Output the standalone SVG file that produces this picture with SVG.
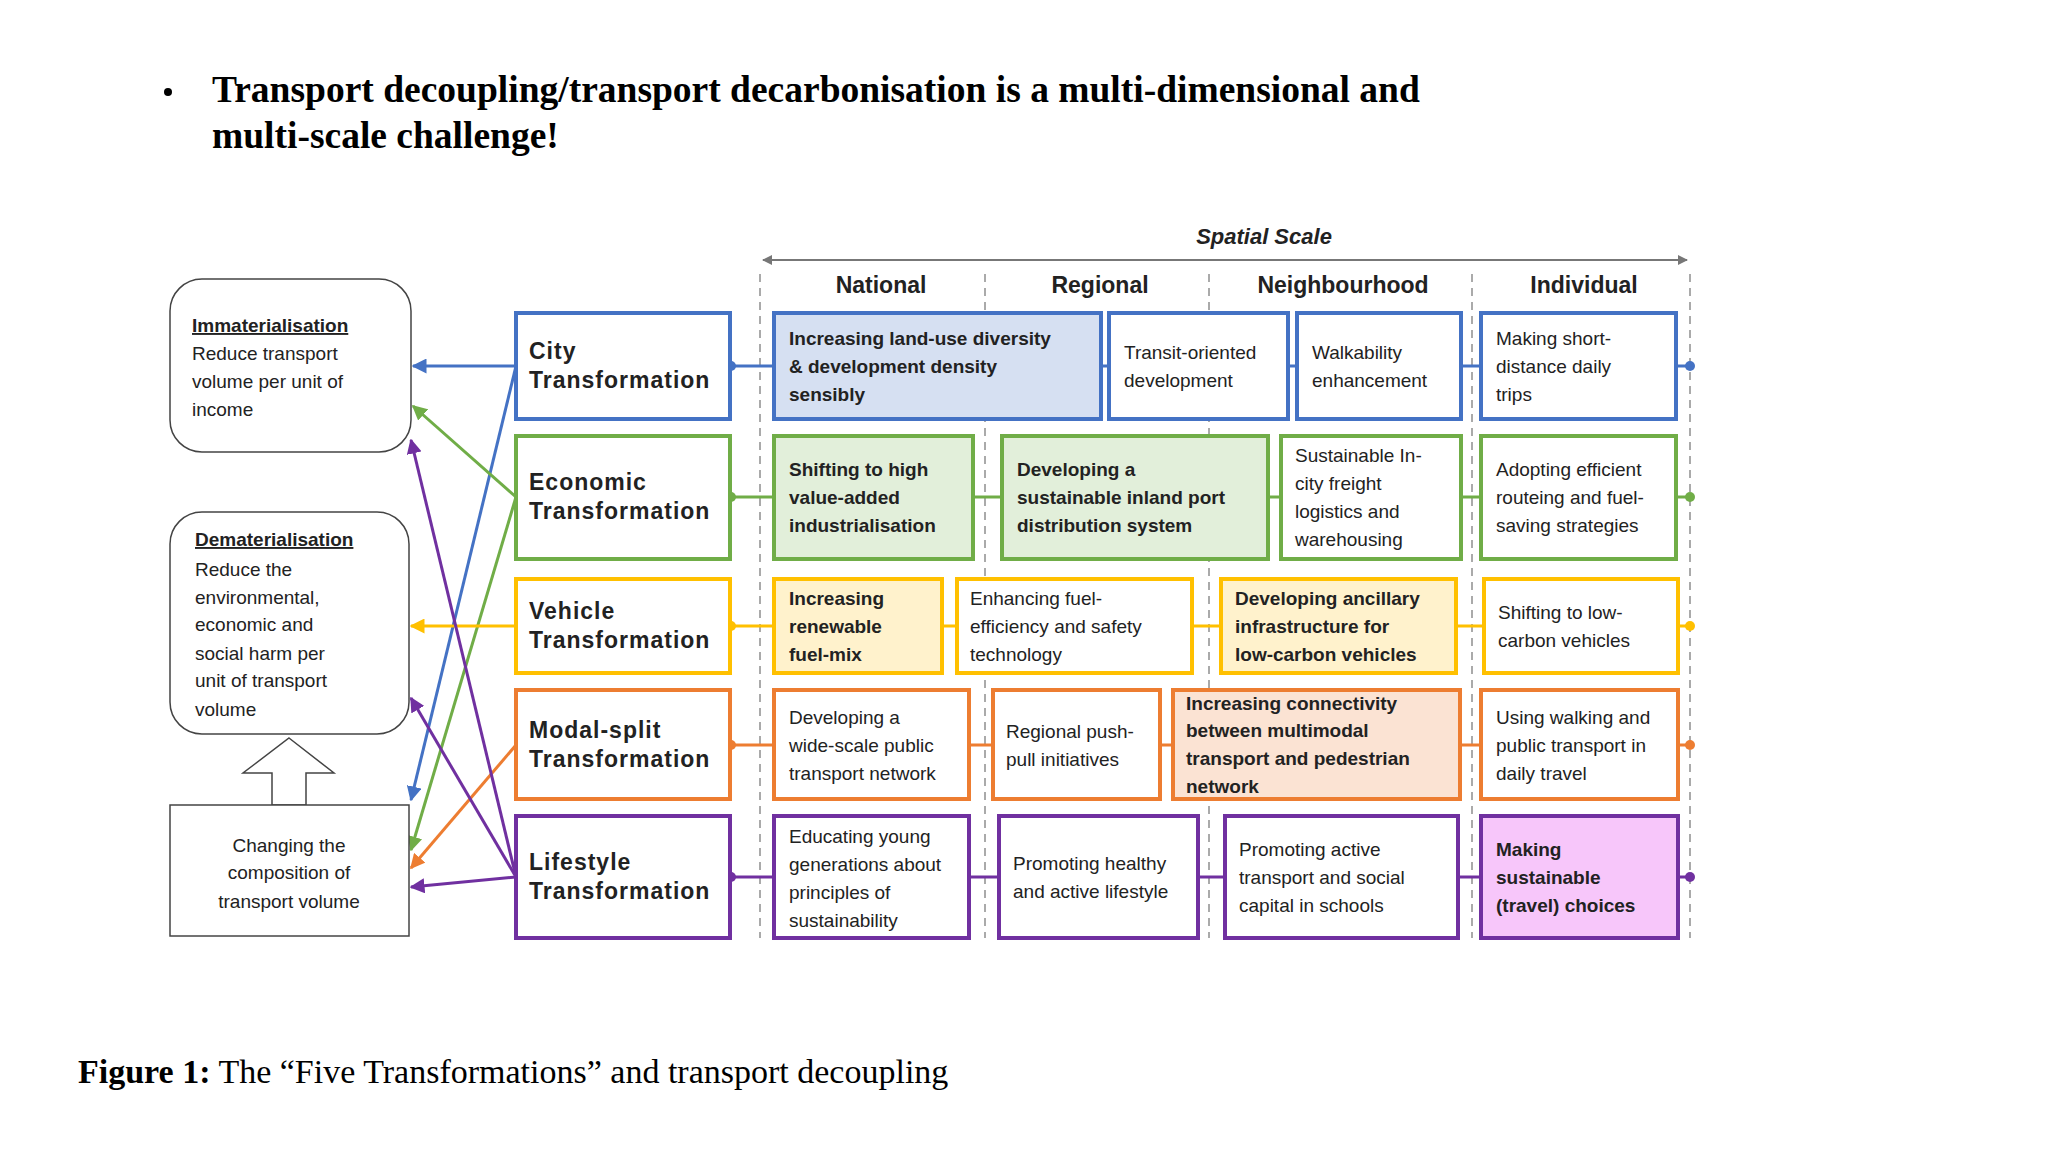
<svg xmlns="http://www.w3.org/2000/svg" width="2048" height="1152" viewBox="0 0 2048 1152">
<defs>
<style>
.t{font-family:"Liberation Serif",serif;fill:#000}
.s{font-family:"Liberation Sans",Arial,sans-serif;fill:#222}
.c{font-size:19px}
.b{font-weight:bold}
.tr{font-size:23px;font-weight:bold;letter-spacing:1px}
.dash{stroke:#aaa;stroke-width:2;stroke-dasharray:8 6}
.cell{stroke-width:4}
.lb{fill:#fff;stroke:#444;stroke-width:1.5}
</style>
<marker id="ab" viewBox="0 0 10 10" refX="9" refY="5" markerWidth="5" markerHeight="5" orient="auto"><path d="M0,0L10,5L0,10z" fill="#4472C4"/></marker>
<marker id="ag" viewBox="0 0 10 10" refX="9" refY="5" markerWidth="5" markerHeight="5" orient="auto"><path d="M0,0L10,5L0,10z" fill="#70AD47"/></marker>
<marker id="ay" viewBox="0 0 10 10" refX="9" refY="5" markerWidth="5" markerHeight="5" orient="auto"><path d="M0,0L10,5L0,10z" fill="#FFC000"/></marker>
<marker id="ao" viewBox="0 0 10 10" refX="9" refY="5" markerWidth="5" markerHeight="5" orient="auto"><path d="M0,0L10,5L0,10z" fill="#ED7D31"/></marker>
<marker id="ap" viewBox="0 0 10 10" refX="9" refY="5" markerWidth="5" markerHeight="5" orient="auto"><path d="M0,0L10,5L0,10z" fill="#7030A0"/></marker>
<marker id="ag2" viewBox="0 0 10 10" refX="9" refY="5" markerWidth="5" markerHeight="5" orient="auto-start-reverse"><path d="M0,0L10,5L0,10z" fill="#777"/></marker>
</defs>
<rect width="2048" height="1152" fill="#fff"/>

<g id="title">
<circle cx="168" cy="92" r="4" fill="#000"/>
<text class="t b" x="212" y="102" font-size="37.5">Transport decoupling/transport decarbonisation is a multi-dimensional and</text>
<text class="t b" x="212" y="148" font-size="37.5">multi-scale challenge!</text>
</g>

<g id="scale">
<line x1="763" y1="260" x2="1687" y2="260" stroke="#777" stroke-width="2" marker-start="url(#ag2)" marker-end="url(#ag2)"/>
<text class="s b" x="1264" y="244" font-size="22" font-style="italic" text-anchor="middle">Spatial Scale</text>
<g class="s b" font-size="23" text-anchor="middle">
<text x="881" y="293">National</text>
<text x="1100" y="293">Regional</text>
<text x="1343" y="293">Neighbourhood</text>
<text x="1584" y="293">Individual</text>
</g>
<line class="dash" x1="760" y1="274" x2="760" y2="938"/>
<line class="dash" x1="985" y1="274" x2="985" y2="938"/>
<line class="dash" x1="1209" y1="274" x2="1209" y2="938"/>
<line class="dash" x1="1472" y1="274" x2="1472" y2="938"/>
<line class="dash" x1="1690" y1="274" x2="1690" y2="938"/>
</g>

<g id="connectors" fill="none" stroke-width="3">
<g stroke="#4472C4"><line x1="730" y1="366" x2="1690" y2="366"/><line x1="516" y1="366" x2="413" y2="366" marker-end="url(#ab)"/><line x1="516" y1="366" x2="411" y2="800" marker-end="url(#ab)"/></g>
<g stroke="#70AD47"><line x1="730" y1="497" x2="1690" y2="497"/><line x1="516" y1="497" x2="413" y2="406" marker-end="url(#ag)"/><line x1="516" y1="497" x2="411" y2="850" marker-end="url(#ag)"/></g>
<g stroke="#FFC000"><line x1="730" y1="626" x2="1690" y2="626"/><line x1="516" y1="626" x2="411" y2="626" marker-end="url(#ay)"/></g>
<g stroke="#ED7D31"><line x1="730" y1="745" x2="1690" y2="745"/><line x1="516" y1="745" x2="411" y2="868" marker-end="url(#ao)"/></g>
<g stroke="#7030A0"><line x1="730" y1="877" x2="1690" y2="877"/><line x1="516" y1="877" x2="411" y2="440" marker-end="url(#ap)"/><line x1="516" y1="877" x2="411" y2="698" marker-end="url(#ap)"/><line x1="516" y1="877" x2="411" y2="887" marker-end="url(#ap)"/></g>
<g stroke="none">
<circle cx="731" cy="366" r="5" fill="#4472C4"/><circle cx="1690" cy="366" r="5" fill="#4472C4"/>
<circle cx="731" cy="497" r="5" fill="#70AD47"/><circle cx="1690" cy="497" r="5" fill="#70AD47"/>
<circle cx="731" cy="626" r="5" fill="#FFC000"/><circle cx="1690" cy="626" r="5" fill="#FFC000"/>
<circle cx="731" cy="745" r="5" fill="#ED7D31"/><circle cx="1690" cy="745" r="5" fill="#ED7D31"/>
<circle cx="731" cy="877" r="5" fill="#7030A0"/><circle cx="1690" cy="877" r="5" fill="#7030A0"/>
</g>
</g>

<g id="immaterialisation">
<rect class="lb" x="170" y="279" width="241" height="173" rx="32"/>
<g class="s c"><text x="192" y="332" class="b" text-decoration="underline">Immaterialisation</text>
<text x="192" y="360">Reduce transport</text><text x="192" y="388">volume per unit of</text><text x="192" y="416">income</text></g>
</g>
<g id="dematerialisation">
<rect class="lb" x="170" y="512" width="239" height="222" rx="32"/>
<g class="s c"><text x="195" y="546" class="b" text-decoration="underline">Dematerialisation</text>
<text x="195" y="576">Reduce the</text><text x="195" y="604">environmental,</text><text x="195" y="631">economic and</text><text x="195" y="660">social harm per</text><text x="195" y="687">unit of transport</text><text x="195" y="716">volume</text></g>
</g>
<g id="changing">
<polygon points="289,738 334,773 306,773 306,805 272,805 272,773 243,773" fill="#fff" stroke="#444" stroke-width="1.5"/>
<rect class="lb" x="170" y="805" width="239" height="131"/>
<g class="s c" text-anchor="middle"><text x="289" y="852">Changing the</text><text x="289" y="879">composition of</text><text x="289" y="908">transport volume</text></g>
</g>

<g id="city"><rect class="cell" x="516" y="313" width="214" height="106" fill="#fff" stroke="#4472C4"/><text class="s tr" x="529" y="359">City</text><text class="s tr" x="529" y="388">Transformation</text></g>
<g id="economic"><rect class="cell" x="516" y="436" width="214" height="123" fill="#fff" stroke="#70AD47"/><text class="s tr" x="529" y="490">Economic</text><text class="s tr" x="529" y="519">Transformation</text></g>
<g id="vehicle"><rect class="cell" x="516" y="579" width="214" height="94" fill="#fff" stroke="#FFC000"/><text class="s tr" x="529" y="619">Vehicle</text><text class="s tr" x="529" y="648">Transformation</text></g>
<g id="modal"><rect class="cell" x="516" y="690" width="214" height="109" fill="#fff" stroke="#ED7D31"/><text class="s tr" x="529" y="738">Modal-split</text><text class="s tr" x="529" y="767">Transformation</text></g>
<g id="lifestyle"><rect class="cell" x="516" y="816" width="214" height="122" fill="#fff" stroke="#7030A0"/><text class="s tr" x="529" y="870">Lifestyle</text><text class="s tr" x="529" y="899">Transformation</text></g>

<g id="city-cells" class="s c">
<rect class="cell" x="774" y="313" width="327" height="106" fill="#D6E0F2" stroke="#4472C4"/>
<text class="b" x="789" y="345">Increasing land-use diversity</text><text class="b" x="789" y="373">&amp; development density</text><text class="b" x="789" y="401">sensibly</text>
<rect class="cell" x="1109" y="313" width="179" height="106" fill="#fff" stroke="#4472C4"/>
<text x="1124" y="359">Transit-oriented</text><text x="1124" y="387">development</text>
<rect class="cell" x="1297" y="313" width="164" height="106" fill="#fff" stroke="#4472C4"/>
<text x="1312" y="359">Walkability</text><text x="1312" y="387">enhancement</text>
<rect class="cell" x="1481" y="313" width="195" height="106" fill="#fff" stroke="#4472C4"/>
<text x="1496" y="345">Making short-</text><text x="1496" y="373">distance daily</text><text x="1496" y="401">trips</text>
</g>
<g id="economic-cells" class="s c">
<rect class="cell" x="774" y="436" width="199" height="123" fill="#E2EFDA" stroke="#70AD47"/>
<text class="b" x="789" y="476">Shifting to high</text><text class="b" x="789" y="504">value-added</text><text class="b" x="789" y="532">industrialisation</text>
<rect class="cell" x="1002" y="436" width="266" height="123" fill="#E2EFDA" stroke="#70AD47"/>
<text class="b" x="1017" y="476">Developing a</text><text class="b" x="1017" y="504">sustainable inland port</text><text class="b" x="1017" y="532">distribution system</text>
<rect class="cell" x="1281" y="436" width="180" height="123" fill="#fff" stroke="#70AD47"/>
<text x="1295" y="462">Sustainable In-</text><text x="1295" y="490">city freight</text><text x="1295" y="518">logistics and</text><text x="1295" y="546">warehousing</text>
<rect class="cell" x="1481" y="436" width="195" height="123" fill="#fff" stroke="#70AD47"/>
<text x="1496" y="476">Adopting efficient</text><text x="1496" y="504">routeing and fuel-</text><text x="1496" y="532">saving strategies</text>
</g>
<g id="vehicle-cells" class="s c">
<rect class="cell" x="774" y="579" width="168" height="94" fill="#FFF2CC" stroke="#FFC000"/>
<text class="b" x="789" y="605">Increasing</text><text class="b" x="789" y="633">renewable</text><text class="b" x="789" y="661">fuel-mix</text>
<rect class="cell" x="957" y="579" width="235" height="94" fill="#fff" stroke="#FFC000"/>
<text x="970" y="605">Enhancing fuel-</text><text x="970" y="633">efficiency and safety</text><text x="970" y="661">technology</text>
<rect class="cell" x="1221" y="579" width="235" height="94" fill="#FFF2CC" stroke="#FFC000"/>
<text class="b" x="1235" y="605">Developing ancillary</text><text class="b" x="1235" y="633">infrastructure for</text><text class="b" x="1235" y="661">low-carbon vehicles</text>
<rect class="cell" x="1484" y="579" width="194" height="94" fill="#fff" stroke="#FFC000"/>
<text x="1498" y="619">Shifting to low-</text><text x="1498" y="647">carbon vehicles</text>
</g>
<g id="modal-cells" class="s c">
<rect class="cell" x="774" y="690" width="195" height="109" fill="#fff" stroke="#ED7D31"/>
<text x="789" y="724">Developing a</text><text x="789" y="752">wide-scale public</text><text x="789" y="780">transport network</text>
<rect class="cell" x="993" y="690" width="167" height="109" fill="#fff" stroke="#ED7D31"/>
<text x="1006" y="738">Regional push-</text><text x="1006" y="766">pull initiatives</text>
<rect class="cell" x="1173" y="690" width="287" height="109" fill="#FBE3D3" stroke="#ED7D31"/>
<text class="b" x="1186" y="710">Increasing connectivity</text><text class="b" x="1186" y="737">between multimodal</text><text class="b" x="1186" y="765">transport and pedestrian</text><text class="b" x="1186" y="793">network</text>
<rect class="cell" x="1481" y="690" width="197" height="109" fill="#fff" stroke="#ED7D31"/>
<text x="1496" y="724">Using walking and</text><text x="1496" y="752">public transport in</text><text x="1496" y="780">daily travel</text>
</g>
<g id="lifestyle-cells" class="s c">
<rect class="cell" x="774" y="816" width="195" height="122" fill="#fff" stroke="#7030A0"/>
<text x="789" y="843">Educating young</text><text x="789" y="871">generations about</text><text x="789" y="899">principles of</text><text x="789" y="927">sustainability</text>
<rect class="cell" x="999" y="816" width="199" height="122" fill="#fff" stroke="#7030A0"/>
<text x="1013" y="870">Promoting healthy</text><text x="1013" y="898">and active lifestyle</text>
<rect class="cell" x="1225" y="816" width="233" height="122" fill="#fff" stroke="#7030A0"/>
<text x="1239" y="856">Promoting active</text><text x="1239" y="884">transport and social</text><text x="1239" y="912">capital in schools</text>
<rect class="cell" x="1481" y="816" width="197" height="122" fill="#F7C6FA" stroke="#7030A0"/>
<text class="b" x="1496" y="856">Making</text><text class="b" x="1496" y="884">sustainable</text><text class="b" x="1496" y="912">(travel) choices</text>
</g>

<g id="caption">
<text class="t" x="78" y="1083" font-size="34"><tspan font-weight="bold">Figure 1:</tspan> The “Five Transformations” and transport decoupling</text>
</g>
</svg>
